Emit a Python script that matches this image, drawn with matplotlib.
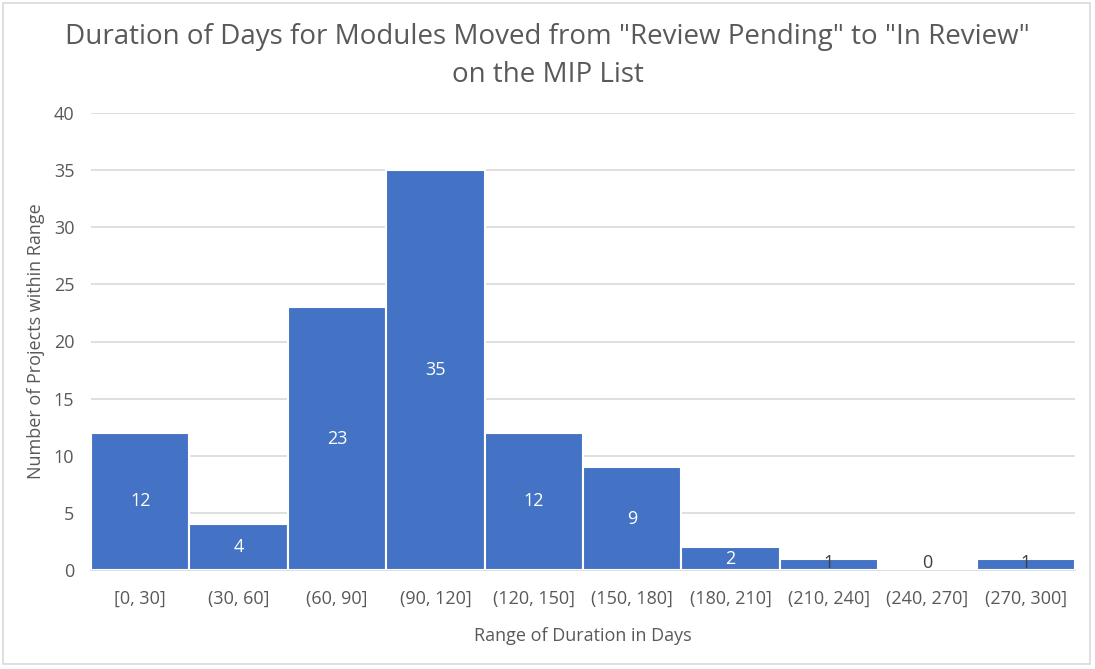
import matplotlib.pyplot as plt
from matplotlib.patches import Rectangle

plt.rcParams['font.family'] = ['Open Sans', 'DejaVu Sans']

# histogram bins and counts
bins = ['[0, 30]', '(30, 60]', '(60, 90]', '(90, 120]', '(120, 150]',
        '(150, 180]', '(180, 210]', '(210, 240]', '(240, 270]', '(270, 300]']
counts = [12, 4, 23, 35, 12, 9, 2, 1, 0, 1]

bar_color = '#4472C4'
text_gray = '#595959'
grid_gray = '#D9D9D9'

fig = plt.figure(figsize=(10.95, 6.69), dpi=100)
ax = fig.add_axes([91 / 1095, 1 - 570 / 669, (1075 - 91) / 1095, (570 - 113) / 669])

x = range(len(bins))
ax.bar(x, counts, width=1.0, color=bar_color, edgecolor='white', linewidth=1.5, zorder=3)

# data labels: white inside larger bars, gray for tiny ones
for i, v in enumerate(counts):
    if v >= 2:
        ax.text(i, v / 2, str(v), ha='center', va='center', color='white', fontsize=13, zorder=4)
    else:
        ax.text(i, 0.65, str(v), ha='center', va='center', color='#404040', fontsize=13, zorder=4)

ax.set_xlim(-0.5, len(bins) - 0.5)
ax.set_ylim(0, 40)
ax.set_yticks(range(0, 41, 5))
ax.set_xticks(list(x))
ax.set_xticklabels(bins)
ax.tick_params(axis='both', length=0, labelsize=13, colors=text_gray)
ax.tick_params(axis='x', pad=14)
ax.tick_params(axis='y', pad=12)
ax.yaxis.grid(True, color=grid_gray, linewidth=1.2, zorder=0)
for side in ['top', 'right', 'left']:
    ax.spines[side].set_visible(False)
ax.spines['bottom'].set_color(grid_gray)
ax.spines['bottom'].set_linewidth(1.2)

ax.set_xlabel('Range of Duration in Days', fontsize=13, color=text_gray, labelpad=14)
ax.set_ylabel('Number of Projects within Range', fontsize=13, color=text_gray, labelpad=6)

fig.text(0.5, 1 - 56 / 669,
         'Duration of Days for Modules Moved from "Review Pending" to "In Review"\non the MIP List',
         ha='center', va='center', fontsize=20, color=text_gray, linespacing=1.45)

# light chart-area border
fig.patches.append(Rectangle((3 / 1095, 5 / 669), 1087 / 1095, 661 / 669,
                             transform=fig.transFigure, fill=False,
                             edgecolor=grid_gray, linewidth=1.2))

fig.savefig('out.png', dpi=100)
